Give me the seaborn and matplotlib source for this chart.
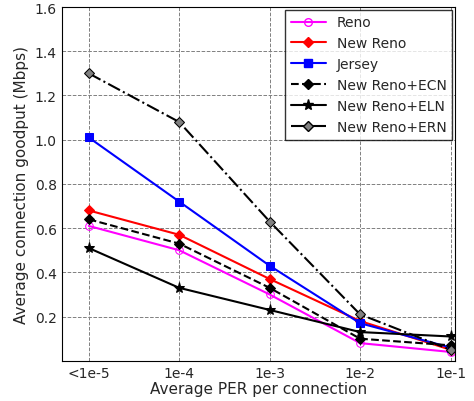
import numpy as np
import pandas as pd
import seaborn as sns
import matplotlib.pyplot as plt

xlabels = ['<1e-5', '1e-4', '1e-3', '1e-2', '1e-1']
reno = [0.61, 0.50, 0.30, 0.08, 0.04]
new_reno = [0.68, 0.57, 0.37, 0.18, 0.05]
jersey = [1.01, 0.72, 0.43, 0.17, 0.06]
nr_ecn = [0.64, 0.53, 0.33, 0.10, 0.07]
nr_eln = [0.51, 0.33, 0.23, 0.13, 0.11]
nr_ern = [1.30, 1.08, 0.63, 0.21, 0.05]

series = [
    ('Reno', reno, 'magenta', '-', 'o', 'none'),
    ('New Reno', new_reno, 'red', '-', 'D', 'red'),
    ('Jersey', jersey, 'blue', '-', 's', 'blue'),
    ('New Reno+ECN', nr_ecn, 'black', '--', 'D', 'black'),
    ('New Reno+ELN', nr_eln, 'black', '-', '*', 'black'),
    ('New Reno+ERN', nr_ern, 'black', '-.', 'D', 'gray'),
]

sns.set_style('white')
plt.rcParams['font.family'] = ['DejaVu Sans']
fig, ax = plt.subplots(figsize=(4.74, 4.02), dpi=100)
x = np.arange(len(xlabels))
for name, vals, c, ls, m, mfc in series:
    sns.lineplot(x=x, y=vals, ax=ax, color=c, linestyle=ls, marker=m, legend=False,
                 markerfacecolor=mfc, markeredgecolor=c, markersize=8 if m == '*' else 5.5,
                 linewidth=1.5)
    ax.plot([], [], color=c, linestyle=ls, marker=m, markerfacecolor=mfc,
            markeredgecolor=c, markersize=8 if m == '*' else 5.5, linewidth=1.5, label=name)
ax.set_xticks(x)
ax.set_xticklabels(xlabels)
ax.set_xlim(-0.3, 4.05)
ax.set_ylim(0, 1.6)
ax.set_yticks([0.2, 0.4, 0.6, 0.8, 1.0, 1.2, 1.4, 1.6])
ax.grid(True, linestyle='--', color='gray', linewidth=0.7)
for s in ax.spines.values():
    s.set_color('black')
ax.tick_params(direction='in', labelsize=10)
ax.set_xlabel('Average PER per connection', fontsize=11, labelpad=1)
ax.set_ylabel('Average connection goodput (Mbps)', fontsize=11)
ax.legend(loc='upper right', fontsize=10, frameon=True, fancybox=False,
          edgecolor='black', borderaxespad=0.2, handlelength=2.5)
fig.subplots_adjust(left=0.13, right=0.96, top=0.98, bottom=0.1)
fig.savefig('out.png', dpi=100)
